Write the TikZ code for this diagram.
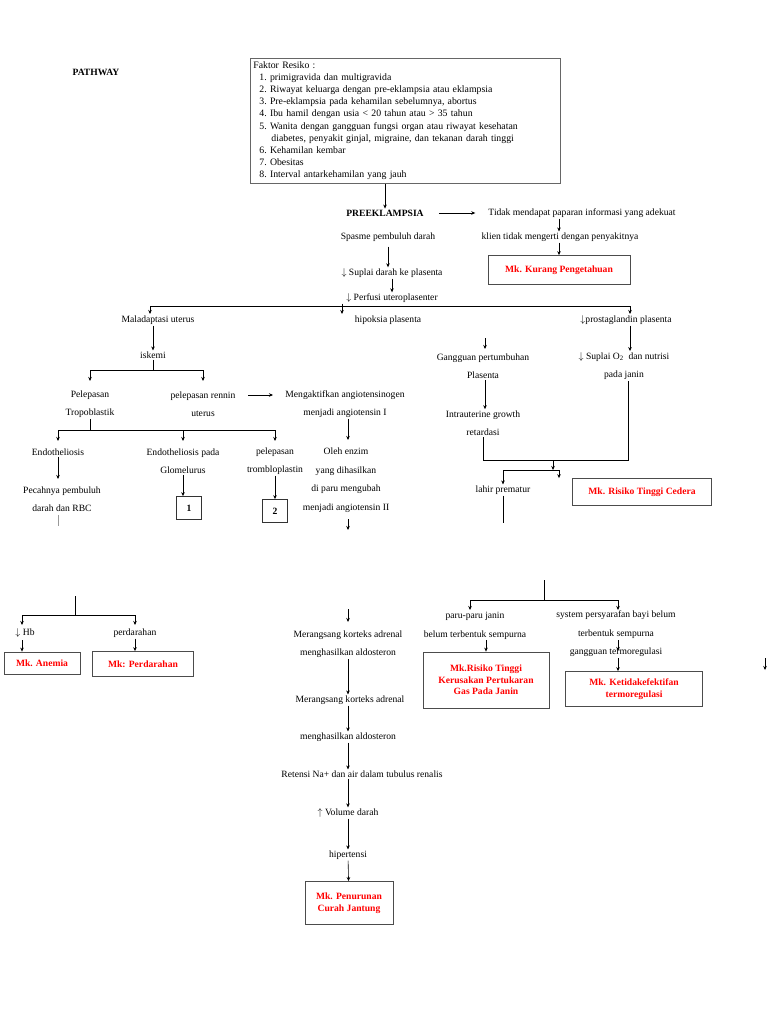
\documentclass[tikz,border=0pt]{standalone}
\usepackage{fontspec}
\setmainfont{Liberation Serif}
\usetikzlibrary{arrows.meta, positioning}
\begin{document}
\begin{tikzpicture}[x=1pt, y=-1pt,
        txt/.style={font=\fontsize{9.6}{18.5}\selectfont, align=center, inner sep=1pt},
        mk/.style={rectangle, draw=black!70, thick, font=\fontsize{9.6}{11.5}\selectfont\bfseries, text=red, align=center, inner sep=2pt},
        num/.style={rectangle, draw=black!80, thick, font=\fontsize{9.6}{11}\selectfont\bfseries, minimum width=25pt, minimum height=23pt},
        arrow/.style={-{Stealth[length=4pt, width=3.5pt]}, semithick},
        line/.style={semithick},
        ]
    \useasboundingbox (0,0) rectangle (768,1024);

    % Header
    \node[txt, font=\fontsize{9.6}{11}\selectfont\bfseries] (Pathway) at (96,72) {PATHWAY};
    \node[rectangle, draw=black!60, thick, anchor=north west, text width=304pt, font=\fontsize{9.8}{12.2}\selectfont, inner sep=3pt] (Faktor) at (250,58) {Faktor Resiko :\\
        \hspace*{6pt}1.\ primigravida dan multigravida\\
        \hspace*{6pt}2.\ Riwayat keluarga dengan pre-eklampsia atau eklampsia\\
        \hspace*{6pt}3.\ Pre-eklampsia pada kehamilan sebelumnya, abortus\\
        \hspace*{6pt}4.\ Ibu hamil dengan usia < 20 tahun atau > 35 tahun\\
        \hspace*{6pt}5.\ Wanita dengan gangguan fungsi organ atau riwayat kesehatan\\
        \hspace*{18pt}diabetes, penyakit ginjal, migraine, dan tekanan darah tinggi\\
        \hspace*{6pt}6.\ Kehamilan kembar\\
        \hspace*{6pt}7.\ Obesitas\\
        \hspace*{6pt}8.\ Interval antarkehamilan yang jauh};

    % Main stem
    \node[txt, font=\fontsize{9.6}{11}\selectfont\bfseries] (Preeklampsia) at (385,213) {PREEKLAMPSIA};
    \node[txt] (Tidak) at (582,213) {Tidak mendapat paparan informasi yang adekuat};
    \node[txt] (Klien) at (560,237) {klien tidak mengerti dengan penyakitnya};
    \node[mk, minimum width=142pt, minimum height=29pt] (MkKurang) at (559,270) {Mk. Kurang Pengetahuan};
    \node[txt] (Spasme) at (388,237) {Spasme pembuluh darah};
    \node[txt] (Suplai) at (392,273) {$\downarrow$ Suplai darah ke plasenta};
    \node[txt] (Perfusi) at (392,298) {$\downarrow$ Perfusi uteroplasenter};

    \draw[arrow] (Faktor.south -| Preeklampsia) -- (Preeklampsia);
    \draw[arrow] ([xshift=14pt]Preeklampsia.east) -- ([xshift=-12pt]Tidak.west);
    \draw[arrow] (Tidak.south -| MkKurang) -- (Klien.north -| MkKurang);
    \draw[arrow] (Klien.south -| MkKurang) -- (MkKurang);
    \draw[arrow] ([yshift=-4pt]Spasme.south) -- (Suplai.north -| Spasme);
    \draw[arrow] (Suplai) -- (Perfusi);

    % Three branches
    \node[txt] (Maladaptasi) at (158,320) {Maladaptasi uterus};
    \node[txt] (Hipoksia) at (388,320) {hipoksia plasenta};
    \node[txt] (Prostaglandin) at (626,320) {$\downarrow$prostaglandin plasenta};
    \coordinate (Split) at (342,306);
    \draw[line] (Perfusi.south -| Split) -- (Split);
    \draw[line] (150,306) -- (630,306);
    \draw[arrow] (150,306) -- (150,314);
    \draw[arrow] (Split) -- (342,314);
    \draw[arrow] (630,306) -- (630,314);

    % Left branch
    \node[txt] (Iskemi) at (153,355) {iskemi};
    \draw[arrow] (Maladaptasi.south -| Iskemi) -- (Iskemi);
    \node[txt] (Tropoblastik) at (90,404) {Pelepasan\\Tropoblastik};
    \node[txt] (Rennin) at (203,404) {pelepasan rennin\\uterus};
    \node[txt] (Angiotensinogen) at (345,404) {Mengaktifkan angiotensinogen\\menjadi angiotensin I};
    \draw[line] (Iskemi.south) -- (153,370);
    \draw[line] (90,370) -- (203,370);
    \draw[arrow] (90,370) -- (90,381);
    \draw[arrow] (203,370) -- (203,381);
    \draw[arrow] (248,395) -- (273,395);

    \node[txt] (Endotheliosis) at (58,452) {Endotheliosis};
    \node[txt] (Glomelurus) at (183,461) {Endotheliosis pada\\Glomelurus};
    \node[txt] (Tromboplastin) at (275,461) {pelepasan\\trombloplastin};
    \draw[line] (Tropoblastik.south) -- (90,430);
    \draw[line] (58,430) -- (275,430);
    \draw[arrow] (58,430) -- (58,441);
    \draw[arrow] (183,430) -- (183,441);
    \draw[arrow] (275,430) -- (275,441);

    \node[txt] (Pecahnya) at (62,499) {Pecahnya pembuluh\\darah dan RBC};
    \node[num] (Box1) at (189,508) {1};
    \node[num] (Box2) at (275,511) {2};
    \draw[arrow] (Endotheliosis) -- (58,479);
    \draw[arrow] (Glomelurus) -- (Box1.north -| Glomelurus);
    \draw[arrow] (Tromboplastin) -- (Box2);
    \draw[line, black!40] (58,515) -- (58,526);

    \node[txt] (Enzim) at (346,480) {Oleh enzim\\yang dihasilkan\\di paru mengubah\\menjadi angiotensin II};
    \draw[arrow] (Angiotensinogen.south -| 348,0) -- (348,440);
    \coordinate (EnzimEnd) at (348,530);
    \draw[arrow] (348,519) -- (EnzimEnd);

    % Left bottom
    \node[txt] (Hb) at (25,633) {$\downarrow$ Hb};
    \node[txt] (Perdarahan) at (135,633) {perdarahan};
    \node[mk, minimum width=76pt, minimum height=22pt] (MkAnemia) at (42,663) {Mk. Anemia};
    \node[mk, minimum width=101pt, minimum height=25pt] (MkPerdarahan) at (143,664) {Mk: Perdarahan};
    \draw[line] (75,596) -- (75,615);
    \draw[line] (22,615) -- (135,615);
    \draw[arrow] (22,615) -- (22,625);
    \draw[arrow] (135,615) -- (135,625);
    \draw[arrow] (22,640) -- (MkAnemia.north -| 22,0);
    \draw[arrow] (Perdarahan) -- (MkPerdarahan.north -| Perdarahan);

    % Middle bottom
    \node[txt] (Korteks1) at (348,644) {Merangsang korteks adrenal\\menghasilkan aldosteron};
    \node[txt] (Korteks2) at (350,700) {Merangsang korteks adrenal};
    \node[txt] (Aldosteron) at (348,737) {menghasilkan aldosteron};
    \node[txt] (Retensi) at (362,774) {Retensi Na+ dan air dalam tubulus renalis};
    \node[txt] (Volume) at (348,813) {$\uparrow$ Volume darah};
    \node[txt] (Hipertensi) at (348,855) {hipertensi};
    \node[mk, minimum width=88pt, minimum height=43pt] (MkCurah) at (349,903) {Mk. Penurunan\\Curah Jantung};
    \coordinate (KorteksTop) at (348,609);
    \draw[arrow] (KorteksTop) -- (348,622);
    \draw[arrow] (Korteks1) -- (Korteks2.north -| Korteks1);
    \draw[arrow] (Korteks2.south -| Aldosteron) -- (Aldosteron);
    \draw[arrow] (Aldosteron) -- (Retensi.north -| Aldosteron);
    \draw[arrow] (Retensi.south -| Volume) -- (Volume);
    \draw[arrow] (Volume) -- (Hipertensi);
    \draw[arrow] (Hipertensi) -- (MkCurah);

    % Right branch
    \node[txt] (Gangguan) at (483,366) {Gangguan pertumbuhan\\Plasenta};
    \node[txt] (O2) at (624,366) {$\downarrow$ Suplai O\textsubscript{2}\ \ dan nutrisi\\pada janin};
    \node[txt] (Intrauterine) at (483,423) {Intrauterine growth\\retardasi};
    \coordinate (GangguanTop) at (485,338);
    \draw[arrow] (GangguanTop) -- (485,349);
    \draw[arrow] (Prostaglandin.south -| 630,0) -- (O2.north -| 630,0);
    \draw[arrow] (Gangguan.south -| 485,0) -- (Intrauterine.north -| 485,0);
    \draw[line] (Intrauterine.south) -- (483,460) -- (628,460) -- (O2.south -| 628,0);
    \draw[arrow] (553,460) -- (553,470);
    \draw[line] (503,470) -- (559,470);

    \node[txt] (Prematur) at (503,490) {lahir prematur};
    \node[mk, minimum width=139pt, minimum height=27pt] (MkCedera) at (642,492) {Mk. Risiko Tinggi Cedera};
    \draw[arrow] (503,470) -- (Prematur);
    \draw[arrow] (559,470) -- (MkCedera.north -| 559,0);
    \draw[line] (Prematur) -- (503,523);

    \node[txt] (Paru) at (475,626) {paru-paru janin\\belum terbentuk sempurna};
    \node[txt] (Syaraf) at (616,634) {system persyarafan bayi belum\\terbentuk sempurna\\gangguan termoregulasi};
    \node[mk, minimum width=126pt, minimum height=56pt] (MkGas) at (486,680) {Mk.Risiko Tinggi\\Kerusakan Pertukaran\\Gas Pada Janin};
    \node[mk, minimum width=137pt, minimum height=35pt] (MkTermo) at (634,689) {Mk. Ketidakefektifan\\termoregulasi};
    \draw[line] (544,580) -- (544,600);
    \draw[line] (470,600) -- (618,600);
    \draw[arrow] (470,600) -- (470,610);
    \draw[arrow] (618,600) -- (618,610);
    \draw[arrow] (486,640) -- (MkGas);
    \draw[arrow] (618,640) -- (618,651);
    \draw[arrow] (618,658) -- (MkTermo.north -| 618,0);

    \coordinate (EdgeTop) at (765,658);
    \draw[arrow] (EdgeTop) -- (765,670);
\end{tikzpicture}
\end{document}
